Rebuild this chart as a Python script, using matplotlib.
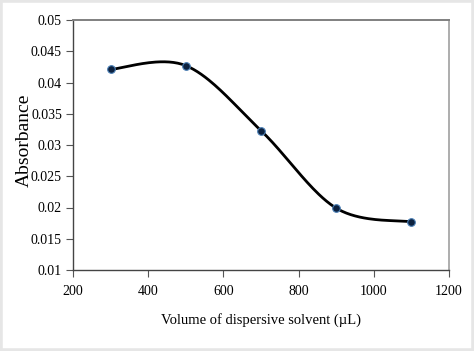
import numpy as np
import matplotlib.pyplot as plt

# data
volume = [300, 500, 700, 900, 1100]
absorbance = [0.0421, 0.0427, 0.0323, 0.0199, 0.0177]
x_ticks = [200, 400, 600, 800, 1000, 1200]
y_ticks = [0.01, 0.015, 0.02, 0.025, 0.03, 0.035, 0.04, 0.045, 0.05]
y_labels = ['0.01', '0.015', '0.02', '0.025', '0.03', '0.035', '0.04', '0.045', '0.05']


def smooth_line(x, y, n=40):
    # Excel-like smoothed line: cubic Bezier with Catmull-Rom control points
    x = np.asarray(x, float)
    y = np.asarray(y, float)
    px = np.concatenate([[x[0]], x, [x[-1]]])
    py = np.concatenate([[y[0]], y, [y[-1]]])
    t = np.linspace(0, 1, n)
    xs, ys = [], []
    for i in range(1, len(px) - 2):
        p0 = np.array([px[i], py[i]])
        p3 = np.array([px[i + 1], py[i + 1]])
        c1 = p0 + (np.array([px[i + 1], py[i + 1]]) - np.array([px[i - 1], py[i - 1]])) / 6
        c2 = p3 - (np.array([px[i + 2], py[i + 2]]) - np.array([px[i], py[i]])) / 6
        b = ((1 - t) ** 3)[:, None] * p0 + (3 * (1 - t) ** 2 * t)[:, None] * c1 \
            + (3 * (1 - t) * t ** 2)[:, None] * c2 + (t ** 3)[:, None] * p3
        xs.extend(b[:, 0])
        ys.extend(b[:, 1])
    return xs, ys


plt.rcParams['font.family'] = ['Liberation Serif', 'DejaVu Serif']

fig = plt.figure(figsize=(4.74, 3.51), dpi=100)
fig.patch.set_facecolor('white')
ax = fig.add_axes([73 / 474, 81 / 351, 376 / 474, 250 / 351])

sx, sy = smooth_line(volume, absorbance)
ax.plot(sx, sy, color='black', lw=2.0, zorder=2)
ax.plot(volume, absorbance, 'o', ms=5.5, mfc='#0d2240', mec='#4a7fb5', mew=0.8, zorder=3)

ax.set_xlim(200, 1200)
ax.set_ylim(0.01, 0.05)
ax.set_xticks(x_ticks)
ax.set_yticks(y_ticks)
ax.set_yticklabels(y_labels)
ax.tick_params(axis='both', direction='out', length=5, width=0.8, color='#555555',
               labelsize=10, pad=3)
ax.tick_params(axis='x', pad=6)

for side in ['left', 'bottom']:
    ax.spines[side].set_color('#444444')
    ax.spines[side].set_linewidth(1.0)
ax.spines['top'].set_color('#808080')
ax.spines['top'].set_linewidth(1.4)
ax.spines['right'].set_color('#a0a0a0')
ax.spines['right'].set_linewidth(1.2)

ax.set_xlabel('Volume of dispersive solvent (µL)', fontsize=10.5)
ax.xaxis.set_label_coords(0.5, -0.172)
ax.set_ylabel('Absorbance', fontsize=14)
ax.yaxis.set_label_coords(-0.106, 0.52)

# light gray frame around the picture
fig.patches.append(plt.Rectangle((0, 0), 1, 1, transform=fig.transFigure,
                                 fill=False, ec='#e6e6e6', lw=4))

fig.savefig('out.png', dpi=100)
